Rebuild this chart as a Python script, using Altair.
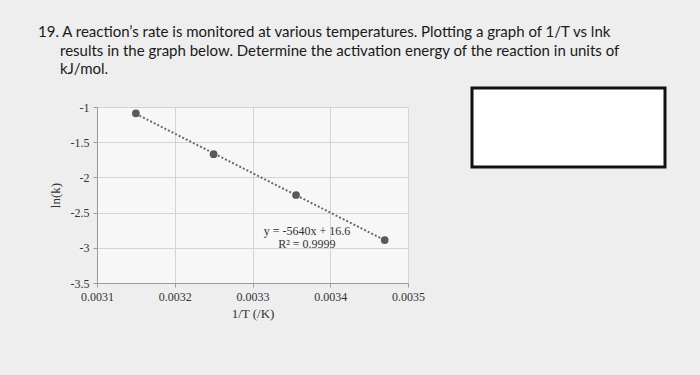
import altair as alt
import pandas as pd

# Data
inv_T = [0.003150, 0.003250, 0.003356, 0.003470]
ln_k = [-1.09, -1.67, -2.25, -2.89]
x_ticks = [0.0031, 0.0032, 0.0033, 0.0034, 0.0035]
y_ticks = [-1.0, -1.5, -2.0, -2.5, -3.0, -3.5]
eq_lines = ["y = -5640x + 16.6", "R² = 0.9999"]
question = [
    "19. A reaction\u2019s rate is monitored at various temperatures.  Plotting a graph of 1/T vs lnk",
    "results in the graph below.  Determine the activation energy of the reaction in units of",
    "kJ/mol.",
]

df = pd.DataFrame({"x": inv_T, "y": ln_k})
ann = pd.DataFrame({"x": [0.003370, 0.003370], "y": [-2.76, -2.95], "t": eq_lines})

W, H = 311, 176
serif = "Liberation Serif"

xs = alt.Scale(domain=[0.0031, 0.0035], nice=False, zero=False)
ys = alt.Scale(domain=[-3.5, -1], nice=False, zero=False)

x_axis = alt.Axis(values=x_ticks, format=".4f", labelFont=serif, titleFont=serif,
                  labelFontSize=12, titleFontSize=13, titleFontWeight="normal",
                  labelColor="#333", titleColor="#333", gridColor="#d4d4d4",
                  domainColor="#9a9a9a", tickColor="#9a9a9a", tickSize=4,
                  labelPadding=4, titlePadding=5, labelOverlap=False, labelFlush=False)
y_axis = alt.Axis(values=y_ticks,
                  labelExpr="toString(datum.value)",
                  labelFont=serif, titleFont=serif,
                  labelFontSize=12, titleFontSize=13, titleFontWeight="normal",
                  labelColor="#333", titleColor="#333", gridColor="#d4d4d4",
                  domainColor="#9a9a9a", tickColor="#9a9a9a", tickSize=4,
                  labelPadding=4, titlePadding=8, labelOverlap=False, labelFlush=False)

x_enc = alt.X("x:Q", scale=xs, title="1/T (/K)", axis=x_axis)
y_enc = alt.Y("y:Q", scale=ys, title="ln(k)", axis=y_axis)

trend = alt.Chart(df).transform_regression("x", "y").mark_line(
    color="#6a6a6a", strokeDash=[2, 2], strokeWidth=2
).encode(x=x_enc, y=y_enc)

pts = alt.Chart(df).mark_circle(color="#5a5a5a", size=60, opacity=1).encode(x=x_enc, y=y_enc)

eq = alt.Chart(ann).mark_text(font=serif, fontSize=12, color="#333").encode(
    x=alt.X("x:Q", scale=xs, title="1/T (/K)", axis=x_axis),
    y=alt.Y("y:Q", scale=ys, title="ln(k)", axis=y_axis),
    text="t:N",
)


def qline(txt, x, y):
    return alt.Chart(pd.DataFrame({"t": [txt]})).mark_text(
        font="Lato", fontSize=15, color="#1a1a1a", align="left", baseline="middle"
    ).encode(x=alt.value(x), y=alt.value(y), text="t:N")


q1 = qline(question[0], -59, -75)
q2 = qline(question[1], -37, -56)
q3 = qline(question[2], -37, -38)

box = alt.Chart(pd.DataFrame({"k": [0]})).mark_rect(
    fill="white", stroke="#111", strokeWidth=3, clip=False
).encode(x=alt.value(375), x2=alt.value(568), y=alt.value(-19), y2=alt.value(60))

chart = alt.layer(trend, pts, eq, q1, q2, q3, box).properties(
    width=W, height=H,
    background="#eeeeee",
    padding={"left": 97, "top": 107, "right": 700 - 97 - W, "bottom": 375 - 107 - H},
    autosize=alt.AutoSizeParams(type="none"),
).configure_view(fill="#f7f7f7", stroke=None)

chart.save("out.html", embed_options={"renderer": "svg", "actions": False})
